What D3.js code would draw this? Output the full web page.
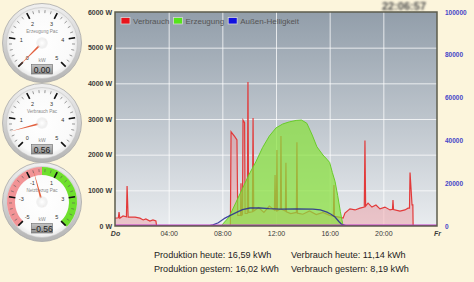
<!DOCTYPE html>
<html>
<head>
<meta charset="utf-8">
<script src="https://cdn.jsdelivr.net/npm/d3@7"></script>
<style>
  body { margin: 0; background: #fcf5dc; }
  svg { display: block; font-family: "Liberation Sans", Arial, sans-serif; }
</style>
</head>
<body>
<svg id="chart" width="474" height="282"></svg>
<script>
// Verbrauch (W) - hours since midnight
var verbrauchH = [0, 0.25, 0.3, 0.36, 0.6, 0.85, 0.9, 0.98, 1.5, 1.86, 2.1, 2.3, 2.6, 2.83, 3.05, 3.1,
  8.6, 8.65, 8.94, 9.09, 9.15, 9.35, 9.39, 9.43, 9.5, 9.54, 9.66, 9.7, 9.86, 9.91, 9.96, 10.24, 10.29, 10.34,
  10.7, 11.1, 11.5, 11.88, 11.93, 11.97, 12.03, 12.07, 12.11, 12.33, 12.37, 12.41, 12.7, 12.74, 12.78,
  13.1, 13.52, 13.56, 13.6, 14.0, 14.5, 15.0, 15.5, 16.0, 16.28, 16.32, 16.36, 16.7, 17.0, 17.14, 17.51,
  17.89, 18.26, 18.58, 18.63, 18.68, 18.86, 19.15, 19.45, 19.75, 20.12, 20.5, 20.68, 20.72, 20.76, 21.24,
  21.61, 21.84, 21.95, 21.99, 22.14, 22.2, 22.22, 24];
var verbrauchW = [220, 230, 390, 220, 280, 260, 1120, 250, 250, 220, 170, 200, 140, 170, 140, 0,
  0, 2640, 2500, 2410, 300, 300, 1200, 300, 320, 2970, 2900, 350, 350, 4040, 380, 400, 3030, 420,
  520, 380, 560, 450, 1430, 450, 430, 2130, 430, 480, 2520, 470, 420, 1770, 400,
  350, 380, 2350, 360, 330, 420, 320, 380, 300, 280, 1150, 270, 250, 220, 360, 480,
  450, 500, 530, 2400, 560, 640, 530, 590, 480, 530, 450, 470, 730, 460, 420,
  450, 500, 500, 1500, 590, 590, 0, 0];

// Erzeugung (W)
var erzeugungH = [0, 7.9, 8.5, 9.0, 9.5, 10.0, 10.5, 11.0, 11.5, 12.0, 12.5, 13.0, 13.5, 13.9, 14.3, 14.7,
  15.05, 15.5, 15.8, 16.0, 16.2, 16.4, 16.6, 16.8, 17.0, 24];
var erzeugungW = [0, 0, 250, 650, 1050, 1450, 1800, 2200, 2520, 2750, 2860, 2920, 2960, 2970, 2880, 2550,
  2220, 1990, 1870, 1780, 1500, 1250, 850, 400, 0, 0];

// Aussen-Helligkeit (lux, right axis)
var helligkeitH = [0, 7.0, 7.3, 7.7, 8.2, 8.6, 9.1, 9.5, 10.06, 10.8, 11.5, 12.3, 13.5, 14.75, 15.3, 15.8,
  16.1, 16.4, 16.7, 16.9, 17.2, 17.5, 24];
var helligkeitLux = [0, 0, 500, 1500, 3700, 5000, 6500, 7600, 8400, 8400, 8100, 7900, 8000, 7900, 7500, 6500,
  5500, 4200, 2000, 700, 200, 0, 0];

var wattTicks = [0, 1000, 2000, 3000, 4000, 5000, 6000];
var luxTicks = [0, 20000, 40000, 60000, 80000, 100000];
var hourTicks = [0, 4, 8, 12, 16, 20, 24];
var hourLabels = ["Do", "04:00", "08:00", "12:00", "16:00", "20:00", "Fr"];
var legendNames = ["Verbrauch", "Erzeugung", "Außen-Helligkeit"];
var legendColors = ["#e8141c", "#55e41c", "#1010e0"];

var summaryLeft = ["Produktion heute: 16,59 kWh", "Produktion gestern: 16,02 kWh"];
var summaryRight = ["Verbrauch heute: 11,14 kWh", "Verbrauch gestern: 8,19 kWh"];

var gaugeTitles = ["Erzeugung Pac", "Verbrauch Pac", "Netzbezug Pac"];
var gaugeValues = [0.00, 0.56, -0.56];
var gaugeMin = [0, 0, -5];
var gaugeMax = [5, 5, 5];
var gaugeLabels = [[0, 1, 2, 3, 4, 5], [0, 1, 2, 3, 4, 5], [-5, -3, -1, 1, 3, 5]];
var clockText = "22:06:57";

var svg = d3.select("#chart");
var defs = svg.append("defs");

// ---------- chart ----------
var pl = 115, pr = 437, pt = 12, pb = 226;
var x = d3.scaleLinear().domain([0, 24]).range([pl, pr]);
var y = d3.scaleLinear().domain([0, 6000]).range([pb, pt]);
var y2 = d3.scaleLinear().domain([0, 100000]).range([pb, pt]);

var bg = defs.append("linearGradient").attr("id", "plotBg")
  .attr("x1", 0).attr("y1", 0).attr("x2", 0).attr("y2", 1);
bg.append("stop").attr("offset", "0%").attr("stop-color", "#929eaa");
bg.append("stop").attr("offset", "100%").attr("stop-color", "#e9ecef");

defs.append("clipPath").attr("id", "plotClip")
  .append("rect").attr("x", pl).attr("y", pt).attr("width", pr - pl).attr("height", pb - pt);

svg.append("rect").attr("x", pl).attr("y", pt).attr("width", pr - pl).attr("height", pb - pt)
  .attr("fill", "url(#plotBg)");

var grid = svg.append("g").attr("stroke", "#ffffff").attr("stroke-opacity", 0.75).attr("stroke-width", 1);
grid.selectAll(".h").data(wattTicks.slice(1, -1)).enter().append("line")
  .attr("x1", pl).attr("x2", pr).attr("y1", d => y(d) + 0.5).attr("y2", d => y(d) + 0.5);
grid.selectAll(".v").data(hourTicks.slice(1, -1)).enter().append("line")
  .attr("y1", pt).attr("y2", pb).attr("x1", d => x(d) + 0.5).attr("x2", d => x(d) + 0.5);

var plot = svg.append("g").attr("clip-path", "url(#plotClip)");

var verbrauch = verbrauchH.map((h, i) => [h, verbrauchW[i]]);
var erzeugung = erzeugungH.map((h, i) => [h, erzeugungW[i]]);
var helligkeit = helligkeitH.map((h, i) => [h, helligkeitLux[i]]);

var area = d3.area().x(d => x(d[0])).y0(y(0)).y1(d => y(d[1]));
var line = d3.line().x(d => x(d[0])).y(d => y(d[1]));
var line2 = d3.line().x(d => x(d[0])).y(d => y2(d[1]));

plot.append("path").datum(verbrauch).attr("d", area).attr("fill", "rgba(240,120,130,0.34)");
plot.append("path").datum(verbrauch).attr("d", line).attr("fill", "none")
  .attr("stroke", "#e23a3a").attr("stroke-width", 1.2);

plot.append("path").datum(erzeugung).attr("d", area).attr("fill", "rgba(136,224,60,0.72)");
plot.append("path").datum(erzeugung.filter(d => d[0] > 7 && d[0] < 18)).attr("d", line).attr("fill", "none")
  .attr("stroke", "#6acb2a").attr("stroke-width", 1);

plot.append("path").datum(helligkeit).attr("d", line2).attr("fill", "none")
  .attr("stroke", "#242a90").attr("stroke-opacity", 0.85).attr("stroke-width", 1.3);
// zero line where red and blue overlap
plot.append("line").attr("x1", pl).attr("x2", pr).attr("y1", y(0) - 0.8).attr("y2", y(0) - 0.8)
  .attr("stroke", "#c03cc8").attr("stroke-width", 1.4);

svg.append("rect").attr("x", pl).attr("y", pt).attr("width", pr - pl).attr("height", pb - pt)
  .attr("fill", "none").attr("stroke", "#5c5c4c").attr("stroke-width", 1.5);

// axes
var axL = svg.append("g").attr("transform", `translate(${pl - 2},0)`)
  .call(d3.axisLeft(y).tickValues(wattTicks).tickFormat(d => d + " W").tickSize(0).tickPadding(1));
axL.select(".domain").remove();
axL.selectAll("text").attr("font-size", 7).attr("font-weight", "bold").attr("fill", "#3a3a3a")
  .attr("font-family", "Liberation Sans, Arial, sans-serif");

var axR = svg.append("g").attr("transform", `translate(${pr + 6},0)`)
  .call(d3.axisRight(y2).tickValues(luxTicks).tickSize(0).tickPadding(2).tickFormat(d => d));
axR.select(".domain").remove();
axR.selectAll("text").attr("font-size", 6.5).attr("font-weight", "bold").attr("fill", "#4646c8")
  .attr("font-family", "Liberation Sans, Arial, sans-serif");

var axB = svg.append("g").attr("transform", `translate(0,${pb + 3})`)
  .call(d3.axisBottom(x).tickValues(hourTicks).tickFormat((d, i) => hourLabels[i]).tickSize(0).tickPadding(2));
axB.select(".domain").remove();
axB.selectAll("text").attr("font-size", 7).attr("fill", "#3a3a3a")
  .attr("font-family", "Liberation Sans, Arial, sans-serif")
  .filter((d, i) => i === 0 || i === hourTicks.length - 1)
  .attr("font-weight", "bold").attr("font-style", "italic");

// legend
var lx = pl + 6;
legendNames.forEach(function (name, i) {
  svg.append("rect").attr("x", lx).attr("y", 17.5).attr("width", 9).attr("height", 6.5)
    .attr("fill", legendColors[i]).attr("stroke", "#d8d8d8").attr("stroke-width", 0.8);
  var t = svg.append("text").attr("x", lx + 12).attr("y", 24).attr("font-size", 8)
    .attr("fill", "#555").text(name);
  lx += 12 + t.node().getComputedTextLength() + 4;
});

// summary
var sum = svg.append("g").attr("font-size", 9.1).attr("fill", "#1c1c1c");
summaryLeft.forEach((s, i) => sum.append("text").attr("x", 154).attr("y", 258 + i * 14).text(s));
summaryRight.forEach((s, i) => sum.append("text").attr("x", 291).attr("y", 258 + i * 14).text(s));

// blurred clock
defs.append("filter").attr("id", "blur").append("feGaussianBlur").attr("stdDeviation", 1.2);
svg.append("text").attr("x", 404).attr("y", 10).attr("text-anchor", "middle").attr("font-size", 11)
  .attr("font-weight", "bold").attr("fill", "#4a4a4a").attr("filter", "url(#blur)").text(clockText);

// ---------- gauges ----------
var bez = defs.append("linearGradient").attr("id", "bezel").attr("x1", 0).attr("y1", 0).attr("x2", 0).attr("y2", 1);
bez.append("stop").attr("offset", "0%").attr("stop-color", "#f0f0f0");
bez.append("stop").attr("offset", "100%").attr("stop-color", "#b4b4b4");
var face = defs.append("radialGradient").attr("id", "face");
face.append("stop").attr("offset", "0%").attr("stop-color", "#ffffff");
face.append("stop").attr("offset", "85%").attr("stop-color", "#fafafa");
face.append("stop").attr("offset", "100%").attr("stop-color", "#e8e8e8");
var cap = defs.append("radialGradient").attr("id", "cap");
cap.append("stop").attr("offset", "0%").attr("stop-color", "#ffffff");
cap.append("stop").attr("offset", "60%").attr("stop-color", "#f2f2f2");
cap.append("stop").attr("offset", "100%").attr("stop-color", "#dcdcdc").attr("stop-opacity", 0.2);
var lcd = defs.append("linearGradient").attr("id", "lcd").attr("x1", 0).attr("y1", 0).attr("x2", 0).attr("y2", 1);
lcd.append("stop").attr("offset", "0%").attr("stop-color", "#c4c4c4");
lcd.append("stop").attr("offset", "100%").attr("stop-color", "#8e8e8e");

var gaugeCenters = [[42, 43], [42, 123], [42, 202]];
var rad = Math.PI / 180;

gaugeTitles.forEach(function (title, gi) {
  var cx = gaugeCenters[gi][0], cy = gaugeCenters[gi][1];
  var g = svg.append("g").attr("transform", `translate(${cx},${cy})`);
  var ang = d3.scaleLinear().domain([gaugeMin[gi], gaugeMax[gi]]).range([-135, 135]);
  var px = (a, r) => r * Math.sin(a * rad);
  var py = (a, r) => -r * Math.cos(a * rad);

  g.append("circle").attr("r", 39.5).attr("fill", "url(#bezel)").attr("stroke", "#a8a8a8").attr("stroke-width", 0.8);
  g.append("circle").attr("r", 35.5).attr("fill", "url(#face)").attr("stroke", "#c4c4c4").attr("stroke-width", 0.6);

  if (gaugeMin[gi] < 0) {
    var arc = d3.arc().innerRadius(27).outerRadius(35);
    g.append("path").attr("d", arc({startAngle: ang(gaugeMin[gi]) * rad, endAngle: ang(0) * rad}))
      .attr("fill", "#f29496");
    g.append("path").attr("d", arc({startAngle: ang(0) * rad, endAngle: ang(gaugeMax[gi]) * rad}))
      .attr("fill", "#6ee02c");
  }

  // minor ticks
  var minor = d3.range(gaugeMin[gi], gaugeMax[gi] + 0.001, (gaugeMax[gi] - gaugeMin[gi]) / 25);
  g.selectAll(".mn").data(minor).enter().append("line")
    .attr("x1", d => px(ang(d), 30)).attr("y1", d => py(ang(d), 30))
    .attr("x2", d => px(ang(d), 33)).attr("y2", d => py(ang(d), 33))
    .attr("stroke", "#555").attr("stroke-width", 0.6);
  // major ticks
  var major = gaugeMin[gi] < 0 ? gaugeLabels[gi] : d3.range(gaugeMin[gi], gaugeMax[gi] + 1);
  g.selectAll(".mj").data(major).enter().append("line")
    .attr("x1", d => px(ang(d), 27)).attr("y1", d => py(ang(d), 27))
    .attr("x2", d => px(ang(d), 33.5)).attr("y2", d => py(ang(d), 33.5))
    .attr("stroke", "#111").attr("stroke-width", 1.6);

  g.selectAll(".lb").data(gaugeLabels[gi]).enter().append("text")
    .attr("x", d => px(ang(d), 21)).attr("y", d => py(ang(d), 21) + 2)
    .attr("text-anchor", "middle").attr("font-size", 5.5).attr("fill", "#333").text(d => d);

  g.append("text").attr("y", -10).attr("text-anchor", "middle").attr("font-size", 4.6)
    .attr("fill", "#8a8a8a").text(title);
  g.append("text").attr("y", 19).attr("text-anchor", "middle").attr("font-size", 5)
    .attr("fill", "#8a8a8a").text("kW");

  g.append("rect").attr("x", -10.5).attr("y", 21.5).attr("width", 21).attr("height", 9.5)
    .attr("fill", "url(#lcd)").attr("stroke", "#6a6a6a").attr("stroke-width", 0.6);
  g.append("text").attr("y", 29.5).attr("text-anchor", "middle").attr("font-size", 8.5)
    .attr("fill", "#1e1e1e").text(d3.format(".2f")(gaugeValues[gi]));

  var a = ang(gaugeValues[gi]);
  var needle = [[px(a, 33), py(a, 33)], [px(a + 90, 1.1), py(a + 90, 1.1)],
    [px(a + 180, 5), py(a + 180, 5)], [px(a - 90, 1.1), py(a - 90, 1.1)]];
  g.append("path").attr("d", d3.line()(needle) + "Z").attr("fill", "#e2603e");
  g.append("circle").attr("r", 6).attr("fill", "url(#cap)");
});
</script>
</body>
</html>
